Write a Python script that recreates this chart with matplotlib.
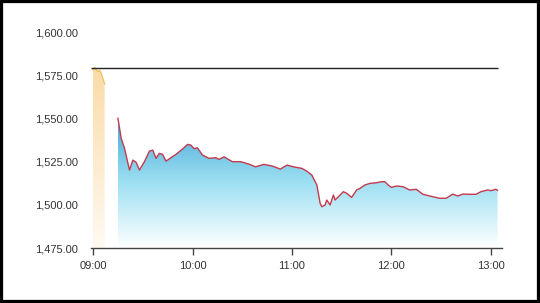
import matplotlib
matplotlib.use("Agg")
import matplotlib.pyplot as plt
import numpy as np
from matplotlib.colors import LinearSegmentedColormap
from matplotlib.patches import Rectangle
from matplotlib.ticker import FuncFormatter, FixedLocator

plt.rcParams['font.family'] = ['Liberation Sans', 'DejaVu Sans']

# ---- data (minutes after 09:00, price) ----
pre_minutes = [0, 1, 3, 4, 5, 7]
pre_values = [1578.0, 1579.5, 1577.0, 1578.0, 1576.0, 1570.0]

minutes = [15, 17, 19, 22, 24, 26, 28, 31, 34, 36, 38, 40, 42, 44, 47, 50, 54, 57, 59,
           61, 63, 66, 70, 74, 76, 79, 84, 89, 94, 98, 103, 108, 113, 117, 121, 126,
           129, 132, 133, 135, 137, 138, 140, 141, 143, 145, 146, 148, 151, 153, 156,
           159, 161, 164, 167, 171, 174, 176, 178, 180, 183, 187, 191, 195, 199, 205,
           209, 213, 217, 220, 223, 227, 231, 234, 238, 240, 243, 244]
values = [1550.1, 1538.5, 1532.7, 1520.1, 1525.9, 1524.6, 1520.1, 1525.0, 1531.1, 1531.7,
          1526.9, 1529.8, 1529.2, 1525.3, 1527.3, 1529.2, 1532.3, 1535.0, 1534.6,
          1532.5, 1533.0, 1528.8, 1526.9, 1527.3, 1526.3, 1527.8, 1525.0, 1525.0, 1523.6,
          1522.0, 1523.4, 1522.5, 1520.7, 1523.0, 1522.0, 1521.1, 1519.5, 1517.2, 1515.3,
          1511.5, 1500.9, 1498.9, 1499.9, 1502.8, 1499.9, 1505.7, 1502.8, 1504.7, 1507.6,
          1506.7, 1504.3, 1508.6, 1509.5, 1511.5, 1512.4, 1512.8, 1513.4, 1513.4, 1511.5,
          1510.1, 1510.9, 1510.5, 1508.6, 1509.0, 1506.1, 1504.7, 1503.8, 1503.8, 1506.2,
          1505.1, 1506.2, 1506.1, 1506.1, 1507.6, 1508.6, 1508.2, 1509.0, 1508.4]

prev_close = 1579.0
y_ticks = [1475, 1500, 1525, 1550, 1575, 1600]
x_ticks = [0, 60, 120, 180, 240]
x_labels = ["09:00", "10:00", "11:00", "12:00", "13:00"]

fig = plt.figure(figsize=(5.4, 3.03), dpi=100)
ax = fig.add_axes([0.168, 0.1815, 0.761, 0.7125])
ax.set_xlim(-1.4, 246.5)
ax.set_ylim(1475, 1600)


def gradient_fill(x, y, colors, line_color, lw):
    x = np.asarray(x, float)
    y = np.asarray(y, float)
    poly = ax.fill_between(x, y, 1475, facecolor='none', edgecolor='none')
    cmap = LinearSegmentedColormap.from_list('g', colors)
    grad = np.linspace(1, 0, 256).reshape(-1, 1)
    im = ax.imshow(grad, cmap=cmap, aspect='auto', origin='upper',
                   extent=[x.min(), x.max(), 1475, y.max()], zorder=1,
                   vmin=0, vmax=1, interpolation='bilinear')
    path = poly.get_paths()[0]
    im.set_clip_path(path, transform=ax.transData)
    ax.plot(x, y, color=line_color, lw=lw, zorder=3)


gradient_fill(pre_minutes, pre_values,
              [(1, 0.98, 0.95), (0.99, 0.92, 0.80), (0.98, 0.86, 0.66)], '#f0c060', 0.9)
gradient_fill(minutes, values,
              [(1, 1, 1), (0.62, 0.88, 0.95), (0.27, 0.65, 0.84)], '#c43a4f', 1.0)

ax.hlines(prev_close, -1.4, max(minutes), color='#222222', lw=1.0, zorder=4)

for s in ['top', 'right', 'left']:
    ax.spines[s].set_visible(False)
ax.spines['bottom'].set_color('#444444')
ax.spines['bottom'].set_linewidth(1.0)

ax.yaxis.set_major_locator(FixedLocator(y_ticks))
ax.yaxis.set_major_formatter(FuncFormatter(lambda v, p: f"{v:,.2f}"))
ax.tick_params(axis='y', length=0, pad=9, labelsize=8, labelcolor='#333333')
ax.set_xticks(x_ticks)
ax.set_xticklabels(x_labels)
ax.tick_params(axis='x', length=5, width=1, color='#444444', pad=4,
               labelsize=8, labelcolor='#333333')

fig.patches.append(Rectangle((0, 0), 1, 1, transform=fig.transFigure,
                             fill=False, edgecolor='black', linewidth=4.5,
                             zorder=10))

fig.savefig("out.png", dpi=100, facecolor='white')
